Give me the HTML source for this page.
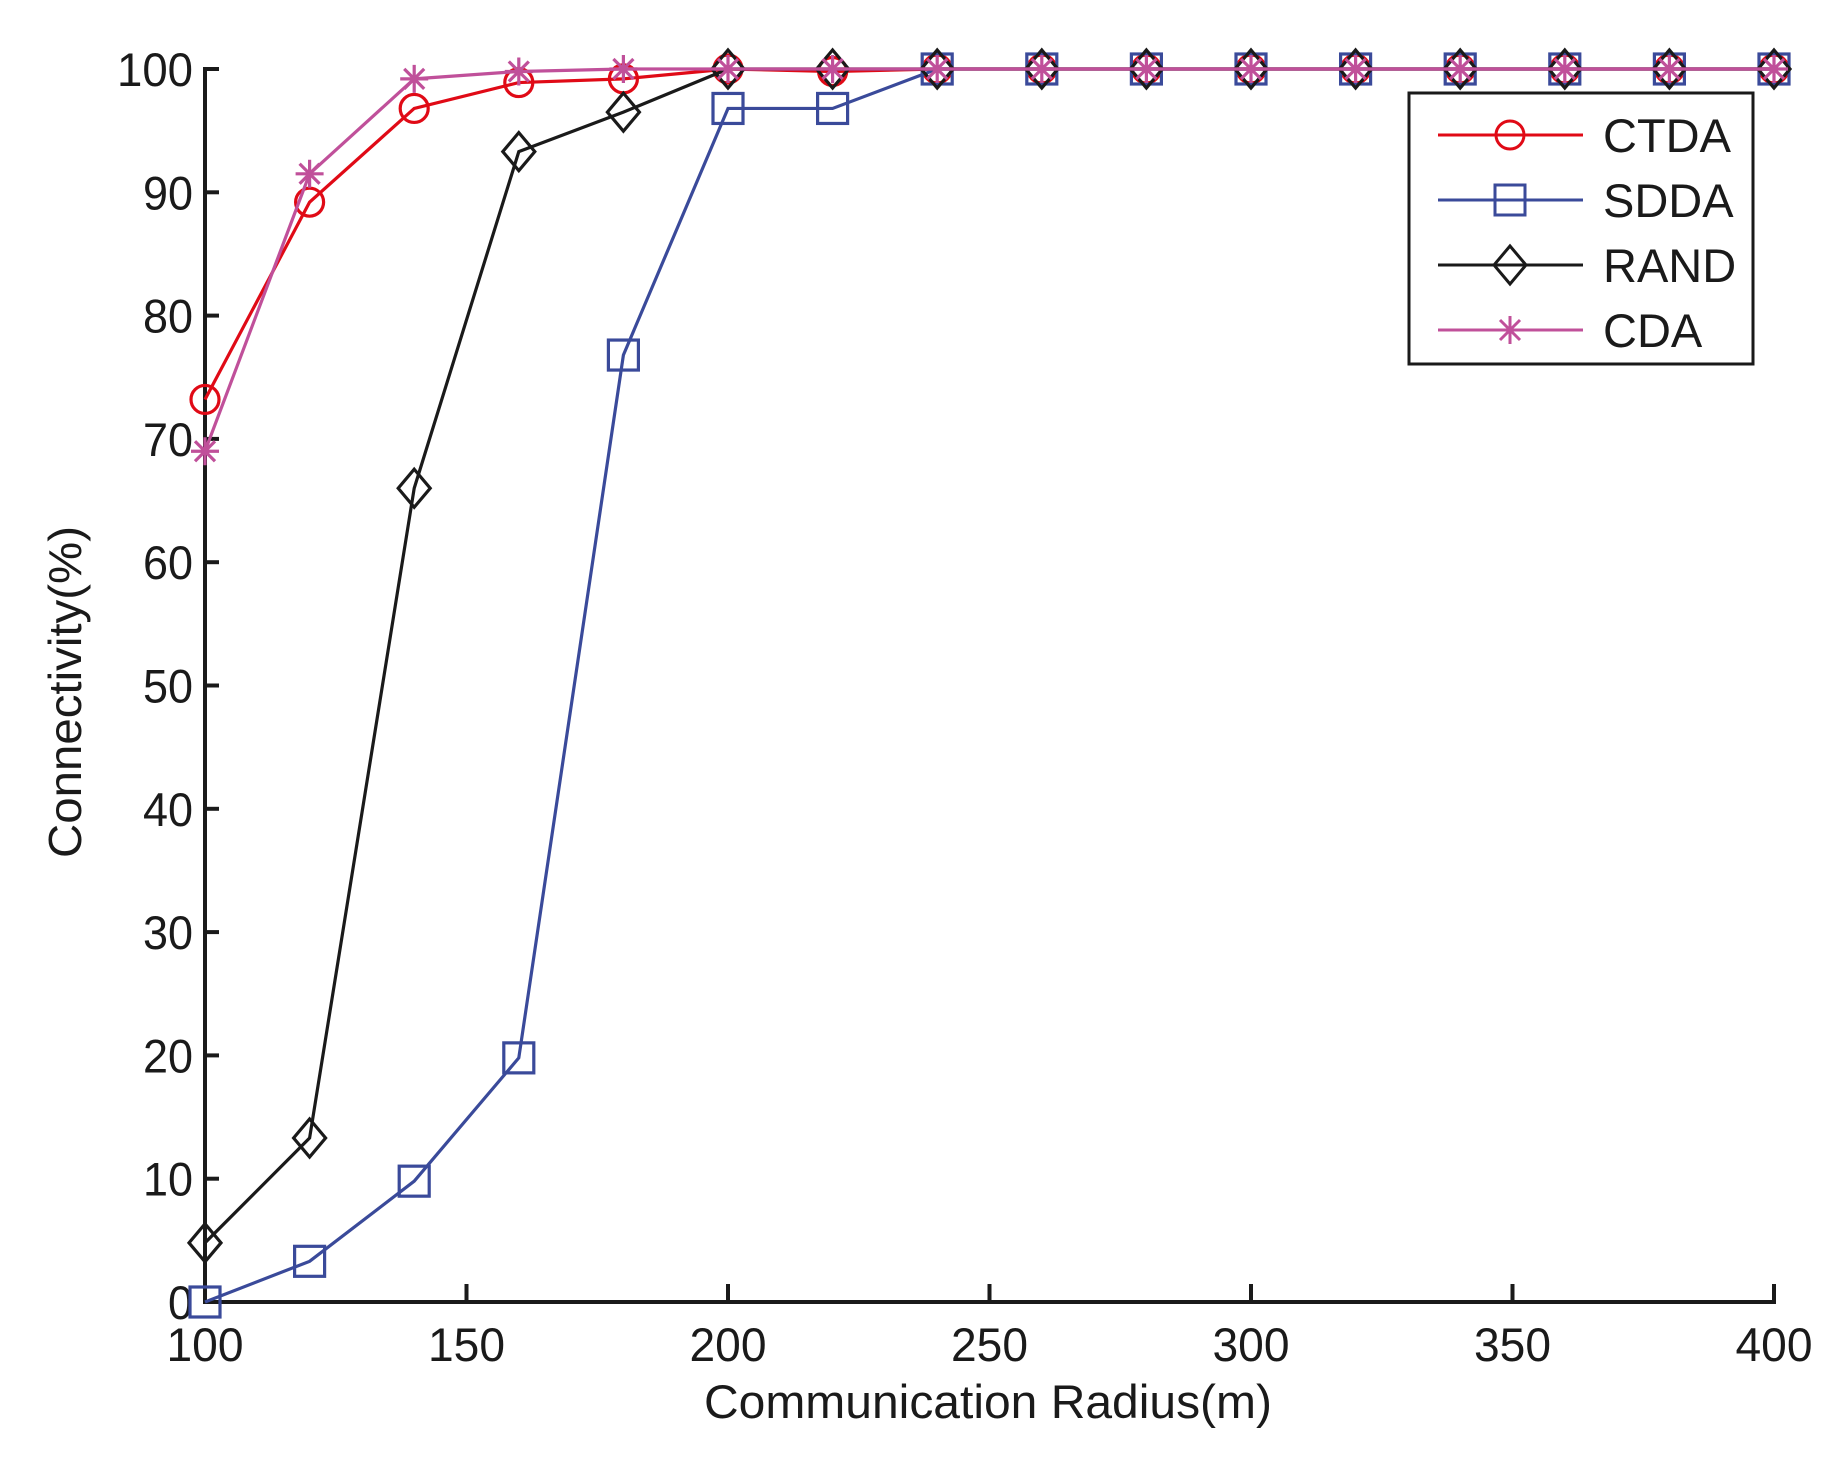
<!DOCTYPE html>
<html><head><meta charset="utf-8">
<style>html,body{margin:0;padding:0;background:#fff;}svg{display:block}</style>
</head><body>
<svg id="s" width="1839" height="1462" viewBox="0 0 1839 1462" xmlns="http://www.w3.org/2000/svg" font-family="Liberation Sans, Arial, sans-serif">
<rect width="1839" height="1462" fill="#fff"/>
<g id="axes" stroke="#1a1a1a" stroke-width="4" fill="none">
<line x1="205" y1="67" x2="205" y2="1304"/>
<line x1="203" y1="1302" x2="1776" y2="1302"/>
</g>
<g id="ticks" stroke="#1a1a1a" stroke-width="4"></g>
<g id="labels" fill="#1a1a1a" font-size="47"></g>
<text x="988" y="1418" font-size="47" fill="#1a1a1a" text-anchor="middle" textLength="568" lengthAdjust="spacingAndGlyphs">Communication Radius(m)</text>
<text transform="translate(81,692) rotate(-90)" font-size="46" fill="#1a1a1a" text-anchor="middle" textLength="332" lengthAdjust="spacingAndGlyphs">Connectivity(%)</text>
<g id="series" fill="none" stroke-width="3.2"></g>
<g id="legend">
<rect x="1409" y="93" width="344" height="271" fill="#fff" stroke="#1a1a1a" stroke-width="3"/>
</g>
</svg>
<script>
var NS="http://www.w3.org/2000/svg";
function el(p,t,a){var e=document.createElementNS(NS,t);for(var k in a)e.setAttribute(k,a[k]);p.appendChild(e);return e;}
function X(v){return 205+(v-100)*5.23;}
function Y(v){return 1302-v*12.33;}
var tk=document.getElementById('ticks'),lb=document.getElementById('labels');
for(var v=100;v<=400;v+=50){el(tk,'line',{x1:X(v),y1:1302,x2:X(v),y2:1284});
var t=el(lb,'text',{x:X(v),y:1361,'text-anchor':'middle',textLength:77,lengthAdjust:'spacingAndGlyphs'});t.textContent=v;}
for(var v=0;v<=100;v+=10){el(tk,'line',{x1:205,y1:Y(v),x2:219,y2:Y(v)});
var w=v==100?76:(v==0?25:50);
var t=el(lb,'text',{x:193,y:Y(v)+17,'text-anchor':'end',textLength:w,lengthAdjust:'spacingAndGlyphs'});t.textContent=v;}
var xs=[];for(var i=100;i<=400;i+=20)xs.push(i);
function fill(a){while(a.length<16)a.push(100);return a;}
var S=[
{c:'#e00a16',m:'o',d:fill([73.2,89.2,96.8,98.9,99.2,100,99.8])},
{c:'#3a4a9a',m:'s',d:fill([0,3.3,9.8,19.8,76.8,96.8,96.8])},
{c:'#1a1a1a',m:'d',d:fill([4.8,13.3,66,93.3,96.5,100,100])},
{c:'#c0509a',m:'*',d:fill([69,91.5,99.2,99.8,100,100])}
];
function marker(g,m,x,y,c){
if(m=='o')el(g,'circle',{cx:x,cy:y,r:14,stroke:c,fill:'none'});
else if(m=='s')el(g,'rect',{x:x-15,y:y-15,width:30,height:30,stroke:c,fill:'none'});
else if(m=='d')el(g,'polygon',{points:(x)+','+(y-19)+' '+(x+16)+','+y+' '+x+','+(y+19)+' '+(x-16)+','+y,stroke:c,fill:'none'});
else{var r=14;el(g,'path',{d:'M'+(x-r)+' '+y+'h'+2*r+'M'+x+' '+(y-r)+'v'+2*r+'M'+(x-10)+' '+(y-10)+'l20 20M'+(x-10)+' '+(y+10)+'l20 -20',stroke:c});}
}
var sg=document.getElementById('series');
S.forEach(function(s){var g=el(sg,'g',{});
el(g,'polyline',{points:xs.map(function(x,i){return X(x)+','+Y(s.d[i]);}).join(' '),stroke:s.c,fill:'none'});
xs.forEach(function(x,i){marker(g,s.m,X(x),Y(s.d[i]),s.c);});});
var lg=document.getElementById('legend'),names=['CTDA','SDDA','RAND','CDA'],ys=[135,200,265,330];
S.forEach(function(s,i){var g=el(lg,'g',{'stroke-width':3});
el(g,'line',{x1:1438,y1:ys[i],x2:1583,y2:ys[i],stroke:s.c});marker(g,s.m,1510,ys[i],s.c);
var t=el(lg,'text',{x:1603,y:ys[i]+17,'font-size':47,fill:'#1a1a1a'});t.textContent=names[i];});
</script>
</body></html>
